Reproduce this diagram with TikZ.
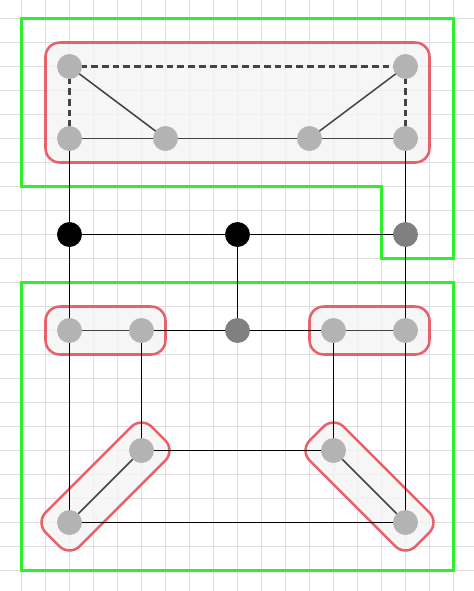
\documentclass[tikz,border=0pt]{standalone}
\usetikzlibrary{positioning}

\definecolor{gridgray}{HTML}{DEDEDE}
\definecolor{zonegreen}{HTML}{2CF02C}
\definecolor{groupred}{HTML}{E8606A}
\definecolor{groupfill}{HTML}{F4F4F4}
\definecolor{vgray}{HTML}{B3B3B3}
\definecolor{dgray}{HTML}{808080}
\definecolor{darkline}{HTML}{444444}

\begin{document}
\begin{tikzpicture} [x=0.5cm, y=0.5cm,
            node distance = 1.5cm,
            on grid,
            vtx/.style = {circle, inner sep=0pt, minimum size=0.52cm, fill=vgray},
            hub/.style = {vtx, fill=black},
            relay/.style = {vtx, fill=dgray},
            link/.style = {line width=0.9pt, draw=black},
            inner/.style = {line width=0.9pt, draw=darkline},
            weak/.style = {line width=2pt, draw=darkline, dash pattern=on 4pt off 2.4pt},
            zone/.style = {line width=1.8pt, draw=zonegreen},
            group/.style = {line width=1.5pt, draw=groupred, fill=groupfill,
                fill opacity=0.8, rounded corners=0.3cm}]

        \useasboundingbox (-0.896,0.771) rectangle (18.854,-23.854);

        % Background grid
        \foreach \gx in {0,...,18}
            \draw [gridgray, line width=0.6pt] (\gx,0.771) -- (\gx,-23.854);
        \foreach \gy in {0,...,23}
            \draw [gridgray, line width=0.6pt] (-0.896,-\gy) -- (18.854,-\gy);

        % Zones
        \draw [zone] (0,0) -- (18,0) -- (18,-10) -- (15,-10) -- (15,-7) -- (0,-7) -- cycle;
        \draw [zone] (0,-11) rectangle (18,-23);

        % Groups
        \draw [group] (1,-1) rectangle (17,-6);
        \draw [group] (1,-12) rectangle (6,-14);
        \draw [group] (12,-12) rectangle (17,-14);
        \draw [group, shift={(3.5,-19.5)}, rotate=45] (-3.12,-1) rectangle (3.12,1);
        \draw [group, shift={(14.5,-19.5)}, rotate=-45] (-3.12,-1) rectangle (3.12,1);

        % Top cluster
        \coordinate (t1) at (2,-2);
        \coordinate (t2) at (16,-2);
        \coordinate (t3) at (2,-5);
        \coordinate (t4) at (6,-5);
        \coordinate (t5) at (12,-5);
        \coordinate (t6) at (16,-5);

        % Middle row
        \coordinate (m1) at (2,-9);
        \coordinate (m2) at (9,-9);
        \coordinate (m3) at (16,-9);

        % Lower row
        \coordinate (r1) at (2,-13);
        \coordinate (r2) at (5,-13);
        \coordinate (r3) at (9,-13);
        \coordinate (r4) at (13,-13);
        \coordinate (r5) at (16,-13);

        % Bottom
        \coordinate (b1) at (5,-18);
        \coordinate (b2) at (13,-18);
        \coordinate (b3) at (2,-21);
        \coordinate (b4) at (16,-21);

        % Links
        \path [inner]
            (t1) edge (t4)
            (t3) edge (t4)
            (t4) edge (t5)
            (t5) edge (t2)
            (t5) edge (t6)
            (r1) edge (r2)
            (r4) edge (r5)
            (b3) edge (b1)
            (b2) edge (b4);
        \path [link]
            (t3) edge (b3)
            (t6) edge (b4)
            (m1) edge (m3)
            (m2) edge (r3)
            (r2) edge (r4)
            (r2) edge (b1)
            (r4) edge (b2)
            (b1) edge (b2)
            (b3) edge (b4);
        \path [weak]
            (t1) edge (t2)
            (t1) edge (t3)
            (t2) edge (t6);

        % Vertices
        \foreach \v in {t1,t2,t3,t4,t5,t6,r1,r2,r4,r5,b1,b2,b3,b4}
            \node (n\v) [vtx] at (\v) {};
        \node (nm1) [hub] at (m1) {};
        \node (nm2) [hub] at (m2) {};
        \node (nm3) [relay] at (m3) {};
        \node (nr3) [relay] at (r3) {};
\end{tikzpicture}
\end{document}
